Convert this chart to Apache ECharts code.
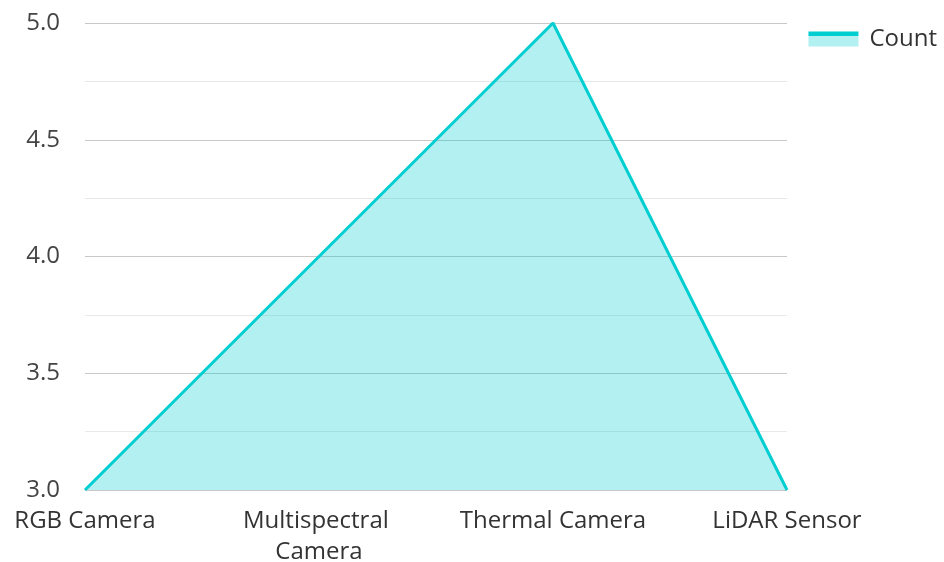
<!DOCTYPE html>
<html><head><meta charset="utf-8">
<script src="https://cdn.jsdelivr.net/npm/echarts@6/dist/echarts.min.js"></script>
<style>html,body{margin:0;padding:0;background:#fff}#c{width:944px;height:562px}</style>
</head><body><div id="c"></div>
<script>
const categories = ['RGB Camera', 'Multispectral Camera', 'Thermal Camera', 'LiDAR Sensor'];
const countValues = [3, 4, 5, 3];
const seriesName = 'Count';

const chart = echarts.init(document.getElementById('c'), null, {renderer: 'canvas'});
chart.setOption({
  animation: false,
  textStyle: {fontFamily: 'Open Sans'},
  grid: {left: 85, right: 157, top: 23, bottom: 72, containLabel: false, outerBoundsMode: 'none'},
  legend: {
    data: [{name: seriesName, icon: 'rect', itemStyle: {
      color: {type: 'linear', x: 0, y: 0, x2: 0, y2: 1, colorStops: [
        {offset: 0, color: '#00CED1'}, {offset: 0.3, color: '#00CED1'},
        {offset: 0.3, color: '#B2F0F1'}, {offset: 1, color: '#B2F0F1'}]}
    }}],
    right: 2, top: 22, itemWidth: 50, itemHeight: 15, itemGap: 10,
    textStyle: {fontSize: 24, color: '#333', fontFamily: 'Open Sans', padding: [0, 0, 20, 6]}
  },
  xAxis: {
    type: 'category', data: categories, boundaryGap: false,
    axisLine: {show: false}, axisTick: {show: false},
    axisLabel: {fontSize: 24, color: '#333', margin: 16, lineHeight: 31, width: 220, overflow: 'break', interval: 0, fontFamily: 'Open Sans'}
  },
  yAxis: {
    type: 'value', min: 3, max: 5, interval: 0.5,
    axisLine: {show: false}, axisTick: {show: false},
    axisLabel: {fontSize: 24, color: '#444', margin: 25, formatter: v => v.toFixed(1), fontFamily: 'Open Sans'},
    splitLine: {show: true, lineStyle: {color: '#c8c8c8', width: 1}},
    minorTick: {show: false, splitNumber: 2},
    minorSplitLine: {show: true, lineStyle: {color: '#e8e8e8', width: 1}}
  },
  series: [{
    name: seriesName, type: 'line', data: countValues,
    symbol: 'none',
    lineStyle: {color: '#00CED1', width: 3},
    itemStyle: {color: '#00CED1'},
    areaStyle: {color: '#00CED1', opacity: 0.3}
  }]
});
</script></body></html>
